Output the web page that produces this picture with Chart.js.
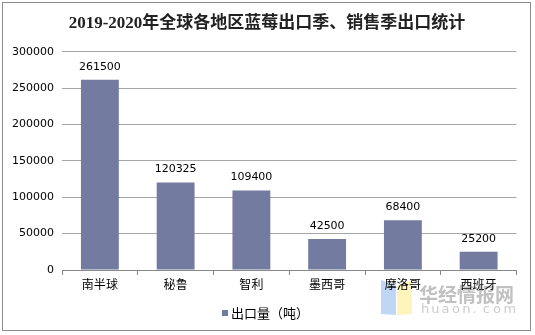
<!DOCTYPE html>
<html>
<head>
<meta charset="utf-8">
<script src="https://cdn.jsdelivr.net/npm/chart.js@4.4.0/dist/chart.umd.min.js"></script>
<style>
html,body{margin:0;padding:0;background:#fff;}
#wrap{position:relative;width:535px;height:335px;}
#frame{position:absolute;left:2px;top:2px;width:529px;height:329px;border:1px solid #8c8c8c;box-sizing:border-box;pointer-events:none;}
canvas{position:absolute;left:0;top:0;}
</style>
</head>
<body>
<div id="wrap">
<canvas id="c" width="535" height="335"></canvas>
<div id="frame"></div>
</div>
<script>
const titleText = '2019-2020年全球各地区蓝莓出口季、销售季出口统计';
const categories = ['南半球', '秘鲁', '智利', '墨西哥', '摩洛哥', '西班牙'];
const exportVolume = [261500, 120325, 109400, 42500, 68400, 25200];
const seriesName = '出口量（吨）';
const yTicks = [0, 50000, 100000, 150000, 200000, 250000, 300000];

const BAR = '#737ba0';
const CJK = "'Noto Sans CJK SC', sans-serif";

const overlay = {
  id: 'overlay',
  beforeDraw(chart) {
    const ctx = chart.ctx;
    ctx.save();
    ctx.globalAlpha = 0.75;
    ctx.fillStyle = '#a9c9f2';
    ctx.beginPath();
    ctx.moveTo(381, 280); ctx.lineTo(396, 286); ctx.lineTo(396, 315); ctx.lineTo(381, 314); ctx.closePath(); ctx.fill();
    ctx.fillStyle = '#fff0a6';
    ctx.beginPath();
    ctx.moveTo(397, 286); ctx.lineTo(412, 280); ctx.lineTo(412, 314); ctx.lineTo(397, 315); ctx.closePath(); ctx.fill();
    ctx.globalAlpha = 1;
    ctx.fillStyle = 'rgba(150,150,150,0.6)';
    ctx.font = "bold 19px " + CJK;
    ctx.textAlign = 'left';
    ctx.textBaseline = 'middle';
    ctx.fillText('华经情报网', 419, 295);
    ctx.font = "13px 'DejaVu Sans', sans-serif";
    ctx.fillStyle = 'rgba(170,170,170,0.6)';
    const w = 'huaon.com';
    for (let i = 0; i < w.length; i++) ctx.fillText(w[i], 421 + i * 10.3, 310);
    ctx.restore();
  },
  afterDatasetsDraw(chart) {
    const ctx = chart.ctx;
    const meta = chart.getDatasetMeta(0);
    ctx.save();
    ctx.fillStyle = '#000';
    ctx.font = "11px 'DejaVu Sans', sans-serif";
    ctx.textAlign = 'center';
    ctx.textBaseline = 'middle';
    meta.data.forEach((bar, i) => {
      ctx.fillText(String(exportVolume[i]), bar.x, bar.y - 13);
    });
    ctx.font = "bold 17px 'Liberation Serif', " + CJK;
    ctx.fillStyle = '#222';
    ctx.fillText(titleText, 267, 24);
    ctx.restore();
  },
  afterDraw(chart) {
    const ctx = chart.ctx;
    ctx.save();
    ctx.fillStyle = BAR;
    ctx.fillRect(222, 310, 6, 6);
    ctx.fillStyle = '#000';
    ctx.font = "13px " + CJK;
    ctx.textAlign = 'left';
    ctx.textBaseline = 'middle';
    ctx.fillText(seriesName, 231, 313);
    ctx.restore();
  }
};

new Chart(document.getElementById('c'), {
  type: 'bar',
  data: {
    labels: categories,
    datasets: [{
      label: seriesName,
      data: exportVolume,
      backgroundColor: BAR,
      borderWidth: 0,
      categoryPercentage: 1,
      barPercentage: 0.5
    }]
  },
  options: {
    responsive: false,
    animation: false,
    devicePixelRatio: 1,
    layout: { padding: { left: 0, right: 18.5, top: 51.7, bottom: 45 } },
    plugins: {
      legend: { display: false },
      title: { display: false },
      tooltip: { enabled: false }
    },
    scales: {
      x: {
        grid: { offset: true, drawOnChartArea: false, drawTicks: true, tickLength: 5, color: '#888' },
        border: { display: true, color: '#888', width: 1 },
        ticks: { color: '#000', font: { family: CJK, size: 12 }, padding: 2, maxRotation: 0 },
        afterFit(s) { s.height = 20; }
      },
      y: {
        min: 0, max: 300000,
        afterBuildTicks(s) { s.ticks = yTicks.map(v => ({ value: v })); },
        grid: { color: '#a6a6a6', drawTicks: false },
        border: { display: false },
        ticks: { color: '#000', font: { family: "'DejaVu Sans', sans-serif", size: 11 }, padding: 8,
                 callback: (v) => String(v) },
        afterFit(s) { s.width = 62; }
      }
    }
  },
  plugins: [overlay]
});
</script>
</body>
</html>
